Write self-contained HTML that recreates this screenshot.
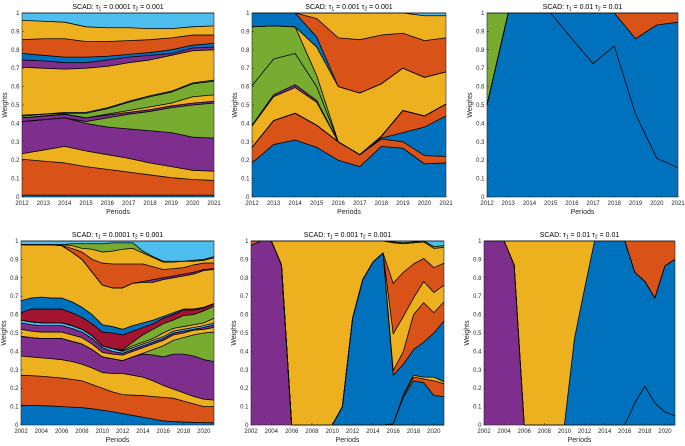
<!DOCTYPE html>
<html><head><meta charset="utf-8"><style>
html,body{margin:0;padding:0;background:#fff;}
svg{display:block;font-family:"Liberation Sans",sans-serif;}
</style></head><body>
<svg id="chart" width="685" height="446" viewBox="0 0 685 446"></svg>
<script>
const yearsTop=[2012,2013,2014,2015,2016,2017,2018,2019,2020,2021];
const yearsBottom=[2002,2003,2004,2005,2006,2007,2008,2009,2010,2011,2012,2013,2014,2015,2016,2017,2018,2019,2020,2021];
const tickTop=[2012,2013,2014,2015,2016,2017,2018,2019,2020,2021];
const tickBottom=[2002,2004,2006,2008,2010,2012,2014,2016,2018,2020];
const yTicks=[0,0.1,0.2,0.3,0.4,0.5,0.6,0.7,0.8,0.9,1];
const titleA=["0.0001","0.001"],titleB=["0.001","0.001"],titleC=["0.01","0.01"];

const colorsA=['b','o','y','p','g','p','y','g','c','y','p','b','o','y','c'];
const layersA=[
[.01,.01,.01,.01,.01,.01,.01,.01,.01,.01],
[.205,.195,.185,.165,.15,.135,.12,.105,.095,.09],
[.235,.255,.275,.25,.23,.21,.185,.165,.145,.14],
[.41,.42,.43,.40,.38,.37,.36,.35,.325,.32],
[.41,.42,.43,.41,.43,.45,.465,.485,.50,.51],
[.43,.44,.45,.43,.445,.46,.475,.495,.51,.52],
[.43,.44,.45,.43,.45,.47,.49,.51,.545,.555],
[.44,.45,.455,.455,.48,.515,.545,.57,.615,.63],
[.445,.45,.46,.46,.485,.52,.55,.575,.62,.635],
[.705,.70,.695,.70,.71,.73,.745,.77,.795,.80],
[.745,.74,.73,.73,.745,.76,.77,.78,.81,.815],
[.78,.77,.76,.76,.765,.775,.785,.80,.825,.835],
[.855,.86,.86,.845,.845,.85,.855,.865,.88,.88],
[.96,.955,.95,.925,.92,.92,.915,.915,.925,.93],
[1,1,1,1,1,1,1,1,1,1]];

const colorsB=['b','o','b','o','y','p','g','g','y','b','o','y','c'];
const layersB=[
[.185,.285,.31,.27,.2,.165,.275,.265,.18,.185],
[.27,.415,.455,.39,.3,.23,.315,.30,.225,.22],
[.27,.415,.455,.39,.3,.23,.32,.35,.38,.44],
[.27,.415,.455,.39,.3,.23,.33,.47,.44,.505],
[.385,.545,.595,.515,.3,.23,.33,.47,.44,.505],
[.39,.555,.61,.525,.3,.23,.33,.47,.44,.505],
[.605,.75,.78,.60,.3,.23,.33,.47,.44,.505],
[.925,.93,.925,.66,.3,.23,.33,.47,.44,.505],
[.925,.93,.925,.815,.6,.565,.615,.70,.65,.68],
[1,1,1,.87,.6,.565,.615,.70,.65,.68],
[1,1,1,.97,.865,.855,.88,.89,.85,.865],
[1,1,1,1,1,1,1,1,.985,.985],
[1,1,1,1,1,1,1,1,1,1]];

const colorsC=['b','b','o','g'];
const layersC=[
[.5,1,1,1,.86,.725,.82,.45,.21,.16],
[.5,1,1,1,1,1,1,.86,.935,.95],
[.5,1,1,1,1,1,1,1,1,1],
[1,1,1,1,1,1,1,1,1,1]];

const colorsD=['b','o','y','p','g','y','p','c','y','g','r','b','y','p','o','y','g','c'];
const layersD=[
[.107,.106,.105,.103,.10,.097,.094,.088,.08,.072,.062,.052,.042,.032,.022,.018,.016,.014,.013,.012],
[.27,.268,.265,.26,.255,.248,.24,.22,.20,.18,.165,.162,.16,.155,.15,.145,.13,.115,.10,.10],
[.375,.37,.365,.36,.355,.345,.33,.31,.285,.28,.28,.27,.26,.24,.215,.195,.175,.155,.14,.135],
[.482,.475,.47,.47,.47,.455,.44,.41,.37,.36,.35,.37,.385,.38,.37,.385,.385,.375,.355,.345],
[.482,.475,.47,.47,.47,.455,.44,.41,.37,.36,.35,.37,.39,.41,.43,.46,.475,.49,.50,.505],
[.52,.51,.505,.505,.505,.49,.475,.44,.395,.385,.38,.40,.42,.44,.46,.49,.50,.515,.52,.53],
[.555,.545,.54,.54,.54,.525,.505,.47,.42,.40,.39,.41,.43,.45,.47,.50,.51,.52,.53,.545],
[.57,.56,.555,.555,.555,.54,.52,.485,.43,.415,.40,.42,.44,.46,.48,.51,.52,.53,.54,.555],
[.57,.56,.555,.555,.555,.54,.52,.485,.43,.415,.405,.43,.45,.47,.50,.525,.535,.545,.555,.58],
[.57,.56,.555,.555,.555,.54,.52,.485,.43,.415,.41,.45,.49,.52,.55,.57,.595,.60,.62,.645],
[.61,.63,.63,.63,.63,.61,.585,.55,.505,.50,.49,.51,.53,.55,.58,.60,.625,.625,.635,.66],
[.675,.69,.695,.69,.69,.67,.64,.60,.545,.535,.52,.54,.555,.57,.59,.61,.63,.63,.64,.66],
[.98,.98,.98,.98,.975,.94,.90,.83,.76,.745,.745,.77,.775,.775,.79,.80,.81,.82,.84,.845],
[.98,.98,.98,.98,.975,.94,.90,.83,.76,.745,.745,.77,.78,.79,.80,.81,.82,.83,.845,.85],
[.98,.98,.98,.98,.975,.96,.94,.90,.88,.875,.875,.875,.875,.86,.845,.85,.855,.87,.88,.88],
[.98,.98,.98,.98,.98,.975,.96,.955,.94,.945,.955,.96,.935,.91,.885,.885,.89,.89,.895,.91],
[.98,.98,.98,.98,.98,.985,.985,.985,.985,.99,.99,.99,.945,.915,.89,.89,.89,.895,.90,.915],
[1,1,1,1,1,1,1,1,1,1,1,1,1,1,1,1,1,1,1,1]];

const colorsE=['p','o','b','o','y','b','o','y','o','y','g','c'];
const layersE=[
[.975,1,1,.87,0,0,0,0,0,0,0,0,0,0,0,0,0,0,0,0],
[1,1,1,.87,0,0,0,0,0,0,0,0,0,0,0,0,0,0,0,0],
[1,1,1,.87,0,0,0,0,0,0,0,0,0,0,.005,.15,.24,.23,.16,.155],
[1,1,1,.87,0,0,0,0,0,0,0,0,0,0,.005,.16,.26,.25,.24,.225],
[1,1,1,.87,0,0,0,0,0,0,0,0,0,0,.005,.165,.27,.26,.26,.235],
[1,1,1,.87,0,0,0,0,0,.10,.58,.79,.885,.935,.27,.33,.41,.45,.50,.565],
[1,1,1,.87,0,0,0,0,0,.10,.58,.79,.885,.935,.295,.40,.60,.665,.61,.67],
[1,1,1,.87,0,0,0,0,0,.10,.58,.79,.885,.935,.495,.59,.69,.78,.72,.76],
[1,1,1,.87,0,0,0,0,0,.10,.58,.79,.885,.935,.77,.83,.875,.905,.855,.88],
[1,1,1,1,1,1,1,1,1,1,1,1,1,1,.99,.985,.99,.995,.96,.965],
[1,1,1,1,1,1,1,1,1,1,1,1,1,1,.995,.99,.995,1,.97,.975],
[1,1,1,1,1,1,1,1,1,1,1,1,1,1,1,1,1,1,1,1]];

const colorsF=['p','b','b','y','o'];
const layersF=[
[1,1,1,.87,0,0,0,0,0,0,0,0,0,0,0,0,0,0,0,0],
[1,1,1,.87,0,0,0,0,0,0,0,0,0,0,0,.12,.21,.12,.07,.05],
[1,1,1,.87,0,0,0,0,0,.47,.74,1,1,1,1,.83,.78,.69,.865,.90],
[1,1,1,1,1,1,1,1,1,1,1,1,1,1,1,.83,.78,.69,.865,.90],
[1,1,1,1,1,1,1,1,1,1,1,1,1,1,1,1,1,1,1,1]];

const PAL={b:'#0072BD',o:'#D95319',y:'#EDB120',p:'#7E2F8E',g:'#77AC30',c:'#4DBEEE',r:'#A2142F'};
const NS='http://www.w3.org/2000/svg';
const svg=document.getElementById('chart');
function mk(tag,attrs,parent){const e=document.createElementNS(NS,tag);for(const k in attrs)e.setAttribute(k,attrs[k]);(parent||svg).appendChild(e);return e;}

const panels=[
 {id:'a',years:yearsTop,ticks:tickTop,layers:layersA,colors:colorsA,title:titleA,x0:22,x1:214,yt:13,yb:197},
 {id:'b',years:yearsTop,ticks:tickTop,layers:layersB,colors:colorsB,title:titleB,x0:252,x1:446,yt:13,yb:197},
 {id:'c',years:yearsTop,ticks:tickTop,layers:layersC,colors:colorsC,title:titleC,x0:487,x1:678,yt:13,yb:197},
 {id:'d',years:yearsBottom,ticks:tickBottom,layers:layersD,colors:colorsD,title:titleA,x0:21,x1:214,yt:241,yb:425},
 {id:'e',years:yearsBottom,ticks:tickBottom,layers:layersE,colors:colorsE,title:titleB,x0:251,x1:444,yt:241,yb:425},
 {id:'f',years:yearsBottom,ticks:tickBottom,layers:layersF,colors:colorsF,title:titleC,x0:484,x1:675,yt:241,yb:425}
];

panels.forEach(P=>{
  const g=mk('g',{});
  
  
  const xmin=P.years[0],xmax=P.years[P.years.length-1];
  const sx=v=>P.x0+(v-xmin)/(xmax-xmin)*(P.x1-P.x0);
  const sy=v=>P.yb-v*(P.yb-P.yt);
  let prev=P.years.map(()=>0);
  P.layers.forEach((top,i)=>{
    const pts=[];
    top.forEach((v,j)=>pts.push(sx(P.years[j]).toFixed(2)+','+sy(v).toFixed(2)));
    for(let j=prev.length-1;j>=0;j--)pts.push(sx(P.years[j]).toFixed(2)+','+sy(prev[j]).toFixed(2));
    const poly=mk('polygon',{points:pts.join(' '),fill:PAL[P.colors[i]],stroke:'none'},g);
    
    
    prev=top;
  });
  P.layers.forEach((top,i)=>{
    const pts=top.map((v,j)=>sx(P.years[j]).toFixed(2)+','+sy(v).toFixed(2)).join(' ');
    const ln=mk('polyline',{points:pts,fill:'none',stroke:'#000','stroke-width':0.8,'stroke-linejoin':'round'},g);
    
    
  });
  const box=mk('rect',{x:P.x0,y:P.yt,width:P.x1-P.x0,height:P.yb-P.yt,fill:'none',stroke:'#262626','stroke-width':0.6},g);
  
  
  yTicks.forEach(t=>{
    mk('line',{x1:P.x0,x2:P.x0+2,y1:sy(t),y2:sy(t),stroke:'#262626','stroke-width':0.5},g);
    const tx=mk('text',{x:P.x0-2.5,y:sy(t)+2,'font-size':6,'text-anchor':'end',fill:'#262626'},g);
    tx.textContent=String(t);
    
    
  });
  P.ticks.forEach(t=>{
    mk('line',{x1:sx(t),x2:sx(t),y1:P.yb,y2:P.yb-2,stroke:'#262626','stroke-width':0.5},g);
    const tx=mk('text',{x:sx(t),y:P.yb+8,'font-size':6,'text-anchor':'middle',fill:'#262626'},g);
    tx.textContent=String(t);
    
    
  });
  const xl=mk('text',{x:(P.x0+P.x1)/2,y:P.yb+17,'font-size':7,'text-anchor':'middle',fill:'#262626'},g);
  xl.textContent='Periods';
  
  
  const cy=(P.yt+P.yb)/2;
  const yl=mk('text',{x:P.x0-15,y:cy,'font-size':7,'text-anchor':'middle',fill:'#262626',transform:'rotate(-90 '+(P.x0-15)+' '+cy+')'},g);
  yl.textContent='Weights';
  
  
  const ti=mk('text',{x:(P.x0+P.x1)/2,y:P.yt-4,'font-size':7,'text-anchor':'middle',fill:'#000'},g);
  
  
  ti.innerHTML='SCAD: τ<tspan font-size="5" dy="1.5">1</tspan><tspan dy="-1.5"> = '+P.title[0]+' τ</tspan><tspan font-size="5" dy="1.5">2</tspan><tspan dy="-1.5"> = '+P.title[1]+'</tspan>';
});
</script>
</body></html>
